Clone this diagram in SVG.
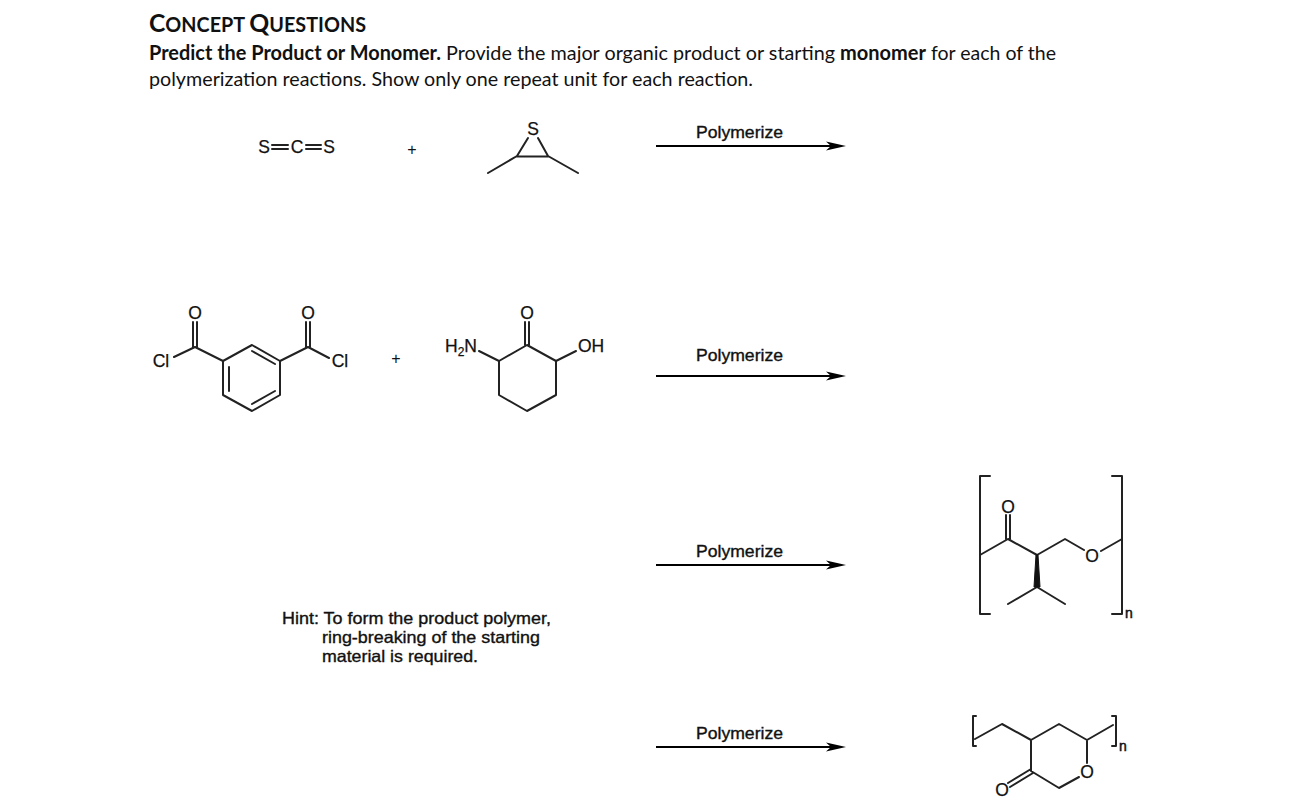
<svg xmlns="http://www.w3.org/2000/svg" width="1290" height="802" viewBox="0 0 1290 802">
<defs>
<marker id="ah" markerUnits="userSpaceOnUse" markerWidth="22" markerHeight="12" refX="10" refY="6" orient="auto"><path d="M0 1.500 L20 6 L0 10.500 L5 6 Z" fill="#000"/></marker>
</defs>
<style>
.b{fill:none;stroke:#222;stroke-width:2;stroke-linecap:round;stroke-linejoin:round}
.a{fill:none;stroke:#000;stroke-width:2}
.h{font-family:Lato,"Liberation Sans",sans-serif;font-size:20px;fill:#111}
.hb{font-weight:700}
.c{font-family:"Liberation Sans",Arial,sans-serif;font-size:17.5px;fill:#111;stroke:#111;stroke-width:.25}
.m{text-anchor:middle}
.p{font-family:"Liberation Sans",Arial,sans-serif;font-size:16px;fill:#111;stroke:#111;stroke-width:.35}
.t{font-family:"Liberation Sans",Arial,sans-serif;font-size:16.5px;fill:#111;stroke:#111;stroke-width:.35}
</style>
<rect width="1290" height="802" fill="#fff"/>
<g id="header">
<text class="h hb" x="149" y="32" textLength="217" lengthAdjust="spacingAndGlyphs"><tspan font-size="25">C</tspan><tspan font-size="20">ONCEPT </tspan><tspan font-size="25">Q</tspan><tspan font-size="20">UESTIONS</tspan></text>
<text class="h hb" x="149" y="60" textLength="292" lengthAdjust="spacingAndGlyphs">Predict the Product or Monomer.</text>
<text class="h" x="446" y="60" textLength="389" lengthAdjust="spacingAndGlyphs">Provide the major organic product or starting</text>
<text class="h hb" x="840" y="60" textLength="86" lengthAdjust="spacingAndGlyphs">monomer</text>
<text class="h" x="931" y="60" textLength="125" lengthAdjust="spacingAndGlyphs">for each of the</text>
<text class="h" x="149" y="86" textLength="604" lengthAdjust="spacingAndGlyphs">polymerization reactions. Show only one repeat unit for each reaction.</text>
</g>
<g id="connectors">
<line class="a" x1="656" y1="146" x2="836" y2="146" marker-end="url(#ah)"/>
<line class="a" x1="656" y1="376" x2="836" y2="376" marker-end="url(#ah)"/>
<line class="a" x1="656" y1="565" x2="836" y2="565" marker-end="url(#ah)"/>
<line class="a" x1="656" y1="747" x2="836" y2="747" marker-end="url(#ah)"/>
</g>
<g id="labels">
<text class="p" x="696" y="138" textLength="87" lengthAdjust="spacingAndGlyphs">Polymerize</text>
<text class="p" x="696" y="361" textLength="87" lengthAdjust="spacingAndGlyphs">Polymerize</text>
<text class="p" x="696" y="557" textLength="87" lengthAdjust="spacingAndGlyphs">Polymerize</text>
<text class="p" x="696" y="739" textLength="87" lengthAdjust="spacingAndGlyphs">Polymerize</text>
</g>
<g id="plus1"><text class="c m" x="412" y="155" style="font-size:16px;stroke:none">+</text></g>
<g id="plus2"><text class="c m" x="396" y="364" style="font-size:16px;stroke:none">+</text></g>
<g id="cs2">
<text class="c m" x="264" y="153">S</text><text class="c m" x="297" y="153">C</text><text class="c m" x="329" y="153">S</text>
<path class="b" d="M272 145H288M272 149H288M306 145H321M306 149H321"/>
</g>
<g id="thiirane">
<text class="c m" x="533" y="135">S</text>
<path class="b" d="M488 173L517 156L528 138M538 138L548 156L578 173M517 156.500H548"/>
</g>
<g id="diacid-chloride">
<text class="c m" x="195" y="319">O</text><text class="c m" x="308" y="319">O</text>
<text class="c m" x="161" y="367">Cl</text><text class="c m" x="340" y="367">Cl</text>
<path class="b" d="M174 357L195 347L223 361L252 345L280 361L308 347L329 358M223 361V395L252 411L280 395V361M193 347V322M197 347V322M306 347V322M310 347V322M229 367V391M252 351L275 364M252 404L275 391"/>
</g>
<g id="aminoketol">
<text class="c" x="445" y="352">H<tspan style="font-size:12px" dy="4">2</tspan><tspan dy="-4">N</tspan></text>
<text class="c" x="578" y="352">OH</text>
<text class="c m" x="527" y="319">O</text>
<path class="b" d="M479 351L499 361L527 345L556 361L576 351M499 361V395L527 411L556 395V361M525 345V322M529 345V322"/>
</g>
<g id="hint">
<text class="t" x="282" y="624" textLength="269" lengthAdjust="spacingAndGlyphs">Hint: To form the product polymer,</text>
<text class="t" x="322" y="643" textLength="218" lengthAdjust="spacingAndGlyphs">ring-breaking of the starting</text>
<text class="t" x="322" y="662" textLength="156" lengthAdjust="spacingAndGlyphs">material is required.</text>
</g>
<g id="polymer-a">
<path class="b" d="M990 476H980V614H990M1112 476H1122V614H1112"/>
<path class="b" d="M980 555L1008 539L1037 555L1065 539L1084 550M1101 551L1122 539M1006 539V515M1010 539V515M1008 604L1037 587L1065 604"/>
<path d="M1036 555L1034 587H1040L1038 555Z" fill="#111" stroke="#111"/>
<text class="c m" x="1008" y="513">O</text>
<text class="c m" x="1092" y="562">O</text>
<text class="c" x="1125" y="618" style="font-size:14px;stroke-width:.5">n</text>
</g>
<g id="polymer-b">
<path class="b" d="M976 716H973V746H976M1112 716H1116V746H1112"/>
<path class="b" d="M975 739L1002 724L1031 740L1059 724L1087 740L1113 725M1031 740V771L1059 788L1079 777M1087 740V763M1031 769L1008 783M1033 773L1010 787"/>
<text class="c m" x="1087" y="778">O</text>
<text class="c m" x="1002" y="796">O</text>
<text class="c" x="1119" y="751" style="font-size:14px;stroke-width:.5">n</text>
</g>
</svg>
